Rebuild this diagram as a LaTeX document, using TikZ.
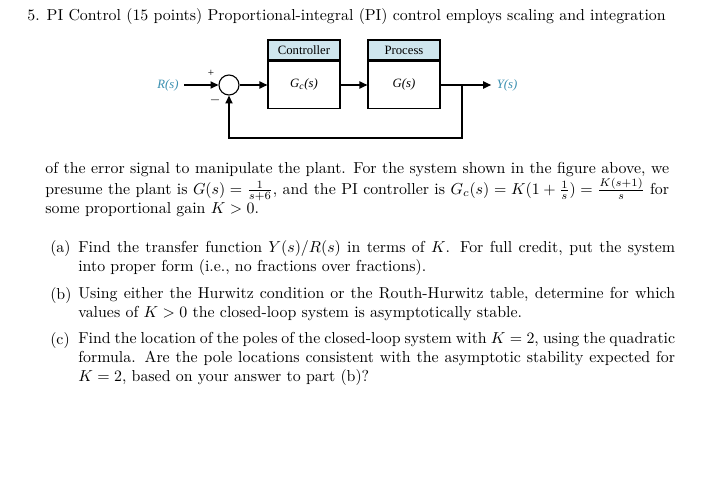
\documentclass[tikz,border=0pt]{standalone}
\usepackage{amsmath}
\usepackage{fontspec}
\newfontfamily\dfont{Liberation Serif}
\usetikzlibrary{arrows.meta}
\definecolor{hdr}{HTML}{CFE6EE}
\definecolor{sig}{HTML}{3A8FB0}
\tikzset{
  blk/.style={draw,line width=0.7pt,minimum width=45.4pt,minimum height=30pt,inner sep=0pt,font=\dfont\footnotesize},
  hd/.style={draw,line width=0.7pt,fill=hdr,minimum width=45.4pt,minimum height=12.6pt,inner sep=0pt,font=\dfont\footnotesize},
  wire/.style={line width=1pt},
  arr/.style={wire,-{Triangle[length=5pt,width=4.5pt]}},
  txt/.style={anchor=north west,inner sep=0pt,align=justify,font=\normalsize}
}
\begin{document}
\begin{tikzpicture}[x=0.63pt,y=-0.63pt]
\useasboundingbox (0,0) rectangle (720,502);
% diagram
\node[font=\dfont\footnotesize,text=sig] (R) at (168,85) {\itshape R(s)};
\node[draw,circle,line width=0.7pt,minimum size=12.6pt,inner sep=0pt] (S) at (229,85) {};
\node[hd] (ch) at (304,50) {Controller};
\node[blk,anchor=north] (C) at (ch.south) {\itshape G\textsubscript{c}(s)};
\node[hd] (ph) at (404,50) {Process};
\node[blk,anchor=north] (P) at (ph.south) {\itshape G(s)};
\node[font=\dfont\footnotesize,text=sig] (Y) at (507,85) {\itshape Y(s)};
\coordinate (J) at (462,85);
\coordinate (B1) at (462,138);
\coordinate (B2) at (229,138);
\node[font=\dfont\scriptsize] (plus) at (211,73) {+};
\node[font=\dfont\footnotesize] (minus) at (215,100) {$-$};
\draw[arr] (R) -- (S);
\draw[arr] (S) -- (C.west|-S);
\draw[arr] (C.east|-S) -- (P.west|-S);
\draw[arr] (P.east|-S) -- (Y);
\draw[arr] (J) -- (B1) -- (B2) -- (S);
% text
\node[txt,text width=404pt] (t0) at (27,8) {5. PI Control (15 points) Proportional-integral (PI) control employs scaling and integration};
\node[txt,text width=393pt] (t1) at (45,162) {of the error signal to manipulate the plant. For the system shown in the figure above, we presume the plant is $G(s)=\tfrac{1}{s+6}$, and the PI controller is $G_c(s)=K(1+\tfrac{1}{s})=\tfrac{K(s+1)}{s}$ for some proportional gain $K>0$.};
\node[txt] (la) at (50,240) {(a)};
\node[txt,text width=376pt] (ta) at (78,240) {Find the transfer function $Y(s)/R(s)$ in terms of $K$. For full credit, put the system into proper form (i.e., no fractions over fractions).};
\node[txt] (lb) at (50,287) {(b)};
\node[txt,text width=376pt] (tb) at (78,287) {Using either the Hurwitz condition or the Routh-Hurwitz table, determine for which values of $K>0$ the closed-loop system is asymptotically stable.};
\node[txt] (lc) at (50,332) {(c)};
\node[txt,text width=376pt] (tc) at (78,332) {Find the location of the poles of the closed-loop system with $K=2$, using the quadratic formula. Are the pole locations consistent with the asymptotic stability expected for $K=2$, based on your answer to part (b)?};
\end{tikzpicture}
\end{document}
